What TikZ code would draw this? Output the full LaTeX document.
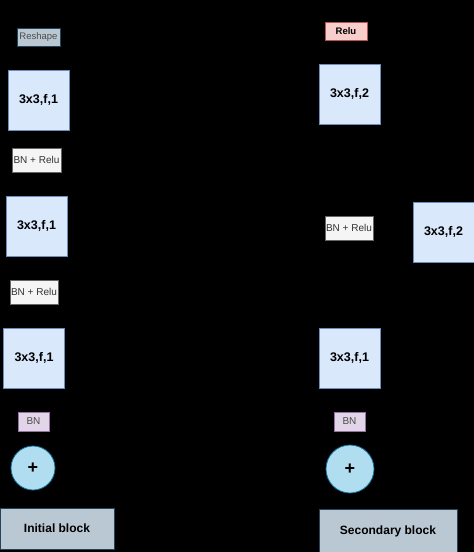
\documentclass[tikz,border=0pt]{standalone}
\usepackage{fontspec}
\setmainfont{Liberation Sans}
\definecolor{convfill}{HTML}{DAE8FC}
\definecolor{convline}{HTML}{6C8EBF}
\definecolor{grayfill}{HTML}{F5F5F5}
\definecolor{grayline}{HTML}{666666}
\definecolor{bnfill}{HTML}{E1D5E7}
\definecolor{bnline}{HTML}{9673A6}
\definecolor{relufill}{HTML}{F8CECC}
\definecolor{reluline}{HTML}{B85450}
\definecolor{slatefill}{HTML}{BAC8D3}
\definecolor{slateline}{HTML}{23445D}
\definecolor{addfill}{HTML}{B1DDF0}
\definecolor{addline}{HTML}{10739E}
\begin{document}
\begin{tikzpicture}[x=1pt,y=-1pt,
	conv/.style={draw=convline, fill=convfill, line width=0.8pt, minimum width=61pt, minimum height=60pt, font=\fontsize{12.5}{15}\selectfont\bfseries},
	bnrelu/.style={draw=grayline, fill=grayfill, line width=0.8pt, minimum width=49pt, minimum height=24pt, inner sep=0pt, text=black!80, font=\fontsize{10}{12}\selectfont},
	bn/.style={draw=bnline, fill=bnfill, line width=0.8pt, minimum width=31pt, minimum height=19pt, inner sep=0pt, text=black!70, font=\fontsize{10}{12}\selectfont},
	relu/.style={draw=reluline, fill=relufill, line width=0.8pt, minimum width=42pt, minimum height=18pt, inner sep=0pt, font=\fontsize{9.5}{12}\selectfont\bfseries},
	reshape/.style={draw=slateline, fill=slatefill, line width=0.8pt, minimum width=43pt, minimum height=18pt, inner sep=0pt, text=black!70, font=\fontsize{9.5}{12}\selectfont},
	addop/.style={circle, draw=addline, fill=addfill, line width=0.8pt, inner sep=0pt, font=\fontsize{18}{20}\selectfont\bfseries},
	blockname/.style={draw=slateline, fill=slatefill, line width=0.8pt, minimum height=41pt, font=\fontsize{12}{15}\selectfont\bfseries}]
	\useasboundingbox (0,0) rectangle (474,552);
	\fill[black] (0,0) rectangle (474,552);
	\clip (0,0) rectangle (474,552);

	% initial block
	\node (reshape) [reshape] at (38.5,37) {Reshape};
	\node (conva) [conv] at (38.5,100) {3x3,f,1};
	\node (bnrelua) [bnrelu] at (36.5,160) {BN + Relu};
	\node (convb) [conv] at (36.5,226) {3x3,f,1};
	\node (bnrelub) [bnrelu, minimum width=48pt] at (34,292) {BN + Relu};
	\node (convc) [conv] at (34,358) {3x3,f,1};
	\node (bna) [bn] at (33.5,421.5) {BN};
	\node (adda) [addop, minimum size=44pt] at (33,468) {+};
	\node (initial) [blockname, minimum width=114pt] at (57,528.5) {Initial block};

	% secondary block
	\node (relu) [relu] at (346,31) {Relu};
	\node (convd) [conv] at (349.5,94) {3x3,f,2};
	\node (bnreluc) [bnrelu, minimum width=48pt] at (349,228) {BN + Relu};
	\node (conve) [conv] at (443.5,232) {3x3,f,2};
	\node (convf) [conv] at (349.5,358) {3x3,f,1};
	\node (bnb) [bn] at (349.5,421.5) {BN};
	\node (addb) [addop, minimum size=48pt] at (350,469) {+};
	\node (secondary) [blockname, minimum width=138pt, minimum height=44pt] at (388,531) {Secondary block};
\end{tikzpicture}
\end{document}
